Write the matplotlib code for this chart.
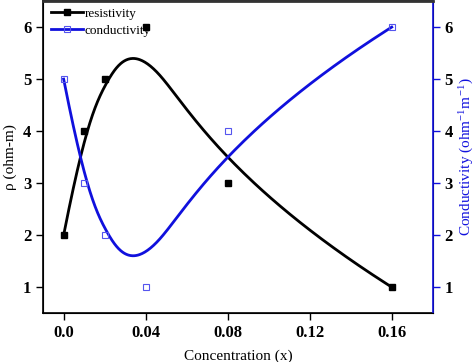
import numpy as np
import matplotlib.pyplot as plt

plt.rcParams['font.family'] = ['Liberation Serif', 'DejaVu Serif']
plt.rcParams['mathtext.fontset'] = 'stix'

# --- Data ---
conc = [0.0, 0.01, 0.02, 0.04, 0.08, 0.16]
resistivity = [2, 4, 5, 6, 3, 1]
conductivity = [5, 3, 2, 1, 4, 6]
x_ticks = [0.0, 0.04, 0.08, 0.12, 0.16]
x_tick_labels = ['0.0', '0.04', '0.08', '0.12', '0.16']
y_ticks = [1, 2, 3, 4, 5, 6]


def bspline(xs, ys, n=300):
    """Clamped cubic B-spline using the data points as control points."""
    pts = np.column_stack([xs, ys]).astype(float)
    k = 3
    m = len(pts)
    inner = np.linspace(0, 1, m - k + 1)
    knots = np.concatenate([[0] * k, inner, [1] * k])
    t = np.linspace(0, 1, n)
    out = []
    for u in t:
        # find span
        if u >= 1:
            s = m - 1
        else:
            s = np.searchsorted(knots, u, side='right') - 1
        d = [pts[j + s - k].copy() for j in range(k + 1)]
        for r in range(1, k + 1):
            for j in range(k, r - 1, -1):
                i = j + s - k
                den = knots[i + k - r + 1] - knots[i]
                a = 0 if den == 0 else (u - knots[i]) / den
                d[j] = (1 - a) * d[j - 1] + a * d[j]
        out.append(d[k])
    out = np.array(out)
    return out[:, 0], out[:, 1]


fig = plt.figure(figsize=(4.74, 3.62), dpi=100)
ax = fig.add_axes([0.091, 0.135, 0.822, 0.862])
ax2 = ax.twinx()

blue = '#1010dd'

rx, ry = bspline(conc, resistivity)
cx, cy = bspline(conc, conductivity)

ax.plot(rx, ry, color='black', lw=2)
ax.plot(conc, resistivity, 's', color='black', ms=5, ls='none')
ax2.plot(cx, cy, color=blue, lw=2)
ax2.plot(conc, conductivity, 's', mfc='none', mec='#5555ee', ms=5, mew=0.8, ls='none')

# legend proxies
ax.plot([], [], '-s', color='black', lw=2, ms=5, label='resistivity')
ax.plot([], [], '-s', color=blue, lw=2, ms=5, mfc='none', mec='#5555ee', mew=0.8,
        label='conductivity')
ax.legend(loc='upper left', frameon=False, fontsize=9.5, handlelength=2.4,
          handletextpad=0.15, borderaxespad=0.2, labelspacing=0.35,
          bbox_to_anchor=(0.0, 1.005))

for a in (ax, ax2):
    a.set_xlim(-0.01, 0.18)
    a.set_ylim(0.5, 6.5)
    a.set_yticks(y_ticks)
ax.set_xticks(x_ticks)
ax.set_xticklabels(x_tick_labels)

ax.tick_params(direction='out', length=5, width=1, labelsize=12)
ax2.tick_params(direction='out', length=5, width=1, color=blue, labelsize=12)
for lbl in ax.get_xticklabels() + ax.get_yticklabels() + ax2.get_yticklabels():
    lbl.set_fontweight('bold')

ax2.spines['right'].set_color(blue)
ax2.spines['right'].set_linewidth(1.2)
for s in ('left', 'bottom', 'top'):
    ax.spines[s].set_linewidth(1.2)
ax2.spines['top'].set_color('#333333')
ax2.spines['top'].set_linewidth(2)

ax.set_xlabel('Concentration (x)', fontsize=11, labelpad=6)
ax.set_ylabel('ρ (ohm-m)', fontsize=11, labelpad=4)
ax2.set_ylabel('Conductivity (ohm$^{\\mathregular{-1}}$m$^{\\mathregular{-1}}$)',
               fontsize=11, color=blue, labelpad=2)

fig.savefig('out.png', dpi=100)
